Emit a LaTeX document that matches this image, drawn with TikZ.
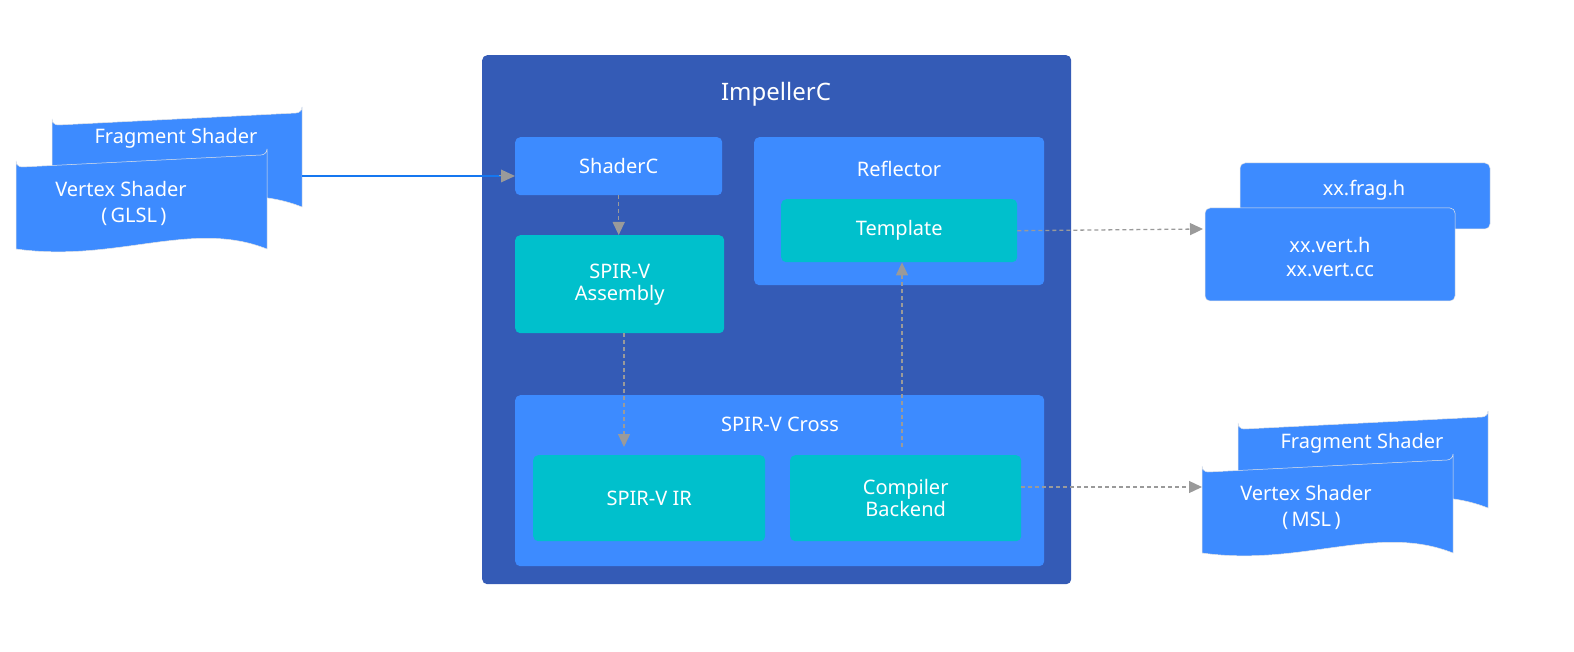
\documentclass[tikz,border=0pt]{standalone}
\usepackage{fontspec}
\setmainfont{Noto Sans}
\usetikzlibrary{arrows.meta}
\definecolor{outer}{HTML}{345BB6}
\definecolor{inner}{HTML}{3D8BFF}
\definecolor{teal}{HTML}{00C0CC}
\definecolor{arr}{HTML}{9A9A9A}
\definecolor{blueline}{HTML}{1577F0}
\tikzset{
  box/.style={rounded corners=5pt, fill=#1, draw=none},
  lbl/.style={text=white, font=\fontsize{20}{24}\selectfont, align=center},
  darr/.style={draw=arr, line width=1.3pt, dashed, dash pattern=on 4pt off 3pt, -{Triangle[length=13pt,width=12pt]}, color=arr},
  doc/.style={fill=inner, draw=white!90!black, line width=0.5pt}
}
\newcommand{\mydoc}[4]{% x0 y0 x1 y1 (bottom)
  \path[doc] (#1,#4) -- (#1,#2+6) arc[start angle=180,end angle=90,radius=6] -- (#3-6,#2) arc[start angle=90,end angle=0,radius=6] -- (#3,#4)
   .. controls ({#3-0.3*(#3-#1)},{#4-30}) and ({#1+0.4*(#3-#1)},{#4+14}) .. (#1,#4) -- cycle;}
\begin{document}
\begin{tikzpicture}[x=1pt,y=-1pt]
\useasboundingbox (0,0) rectangle (1574,652);
% outer
\node[box=outer, minimum width=589pt, minimum height=529pt, anchor=north west] (outer) at (482,55) {};
\node[lbl, font=\fontsize{24}{28}\selectfont] (title) at (776,94) {ImpellerC};
\node[box=inner, minimum width=207pt, minimum height=58pt, anchor=north west] (shaderc) at (515,137) {};
\node[lbl] at (shaderc) {ShaderC};
\node[box=inner, minimum width=290pt, minimum height=148pt, anchor=north west] (refl) at (754,137) {};
\node[lbl] at (899,169) {Reflector};
\node[box=teal, minimum width=236pt, minimum height=63pt, anchor=north west] (tmpl) at (781,199) {};
\node[lbl] at (tmpl) {Template};
\node[box=teal, minimum width=209pt, minimum height=98pt, anchor=north west] (asm) at (515,235) {};
\node[lbl, text width=200pt] at (asm) {SPIR-V\\[-2pt]Assembly};
\node[box=inner, minimum width=529pt, minimum height=171pt, anchor=north west] (cross) at (515,395) {};
\node[lbl] at (780,424) {SPIR-V Cross};
\node[box=teal, minimum width=232pt, minimum height=86pt, anchor=north west] (ir) at (533,455) {};
\node[lbl] at (ir) {SPIR-V IR};
\node[box=teal, minimum width=231pt, minimum height=86pt, anchor=north west] (cb) at (790,455) {};
\node[lbl] at (cb) {Compiler\\[-2pt]Backend};
% left docs
\mydoc{52}{113}{302}{207}
\node[lbl] (frag1) at (176,138) {Fragment Shader};
\mydoc{16}{155}{267}{249}
\node[lbl, align=left] (vert1) at (121,203) {Vertex Shader\\[2pt]\hspace{2.3em}(\,GLSL\,)};
% right top
\path[box=inner, draw=white!90!black, line width=0.5pt] (1240,163) rectangle (1490,229);
\node[lbl] (fragh) at (1364,190) {xx.frag.h};
\path[box=inner, draw=white!90!black, line width=0.5pt] (1205,208) rectangle (1455,301);
\node[lbl] (verth) at (1330,257) {xx.vert.h\\[0pt]xx.vert.cc};
\coordinate (rt) at (1203,229);
% right bottom docs
\mydoc{1238}{417}{1488}{508}
\node[lbl] (frag2) at (1362,443) {Fragment Shader};
\mydoc{1202}{460}{1453}{553}
\node[lbl, align=left] (vert2) at (1306,507) {Vertex Shader\\[2pt]\hspace{2.1em}(\,MSL\,)};
\coordinate (rb) at (1202,487);
% connectors
\coordinate (gl) at (302,176);
\draw[blueline, line width=2.5pt] (gl) -- ([xshift=-14pt]shaderc.west |- gl);
\draw[arr, -{Triangle[length=14pt,width=13pt]}, line width=0pt] ([xshift=-16pt]shaderc.west |- gl) -- (shaderc.west |- gl);
\draw[darr] (shaderc.south) -- (asm.north -| shaderc.south);
\coordinate (asmb) at (624,333);
\coordinate (asmt) at (624,447);
\draw[darr] (asmb) -- (asmt);
\coordinate (cbt) at (902,447);
\draw[darr] (cbt) -- (tmpl.south -| cbt);
\draw[darr] (tmpl.east) -- (rt);
\draw[darr] (cb.east |- rb) -- (rb);
\end{tikzpicture}
\end{document}
